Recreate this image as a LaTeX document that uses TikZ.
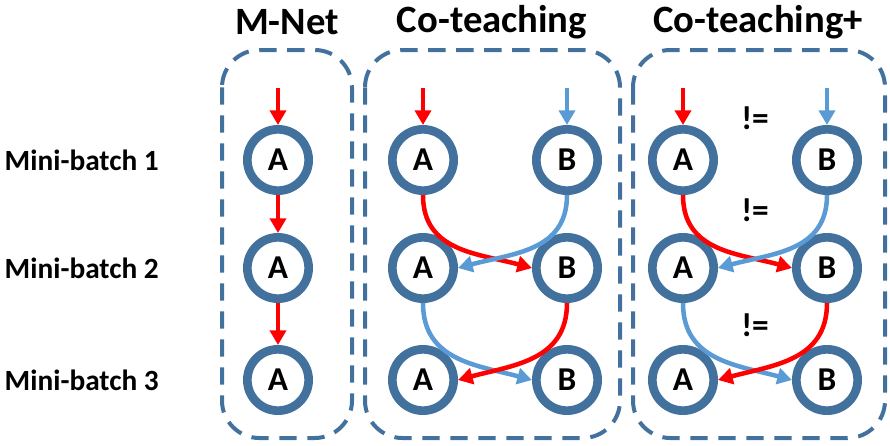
\documentclass[tikz,border=0pt]{standalone}
\usepackage{fontspec}
\setmainfont{Carlito}
\usetikzlibrary{arrows.meta}
\definecolor{ring}{HTML}{41719C}
\definecolor{myred}{HTML}{FF0000}
\definecolor{myblue}{HTML}{5B9BD5}
\begin{document}
\begin{tikzpicture}[x=0.75pt,y=-0.75pt,
  nd/.style={circle,draw=ring,line width=6.5pt,fill=white,minimum size=46pt,inner sep=0pt,font=\bfseries\fontsize{25}{25}\selectfont},
  grp/.style={draw=ring,line width=3pt,dash pattern=on 13pt off 8pt,rounded corners=28pt},
  ra/.style={draw=myred,line width=3.4pt,-{Triangle[length=11pt,width=12pt]}},
  ba/.style={draw=myblue,line width=3.4pt,-{Triangle[length=11pt,width=12pt]}},
  ttl/.style={font=\bfseries\fontsize{29}{29}\selectfont},
  lbl/.style={font=\bfseries\fontsize{22}{22}\selectfont,anchor=west},
  neq/.style={font=\bfseries\fontsize{25}{25}\selectfont}]
\useasboundingbox (0,0) rectangle (890,446);
\draw[grp] (222,50) rectangle (352,438);
\draw[grp] (365,50) rectangle (620,438);
\draw[grp] (633,50) rectangle (885,438);
\node[ttl] (t1) at (287,22) {M-Net};
\node[ttl] (t2) at (492,22) {Co-teaching};
\node[ttl] (t3) at (758,22) {Co-teaching+};
\node[lbl] (l1) at (0,160) {Mini-batch 1};
\node[lbl] (l2) at (0,268) {Mini-batch 2};
\node[lbl] (l3) at (0,380) {Mini-batch 3};
% M-Net
\node[nd] (m1) at (278,160) {A};
\node[nd] (m2) at (278,268) {A};
\node[nd] (m3) at (278,380) {A};
\coordinate (mi) at (278,88);
\draw[ra] (mi) -- (m1.north);
\draw[ra] (m1.south) -- (m2.north);
\draw[ra] (m2.south) -- (m3.north);
% Co-teaching
\foreach \dx/\p in {0/c,260/d}{
\node[nd] (\p a1) at (423+\dx,160) {A};
\node[nd] (\p b1) at (567+\dx,160) {B};
\node[nd] (\p a2) at (423+\dx,268) {A};
\node[nd] (\p b2) at (567+\dx,268) {B};
\node[nd] (\p a3) at (423+\dx,380) {A};
\node[nd] (\p b3) at (567+\dx,380) {B};
\coordinate (\p ia) at (423+\dx,88);
\coordinate (\p ib) at (567+\dx,88);
\draw[ra] (\p ia) -- (\p a1.north);
\draw[ba] (\p ib) -- (\p b1.north);
\draw[ra] (\p a1.south) to[out=-90,in=165,looseness=1.1] (\p b2.west);
\draw[ba] (\p b1.south) to[out=-90,in=15,looseness=1.1] (\p a2.east);
\draw[ba] (\p a2.south) to[out=-90,in=165,looseness=1.1] (\p b3.west);
\draw[ra] (\p b2.south) to[out=-90,in=15,looseness=1.1] (\p a3.east);
}
\node[neq] (n1) at (755,118) {!=};
\node[neq] (n2) at (755,210) {!=};
\node[neq] (n3) at (755,325) {!=};
\end{tikzpicture}
\end{document}
